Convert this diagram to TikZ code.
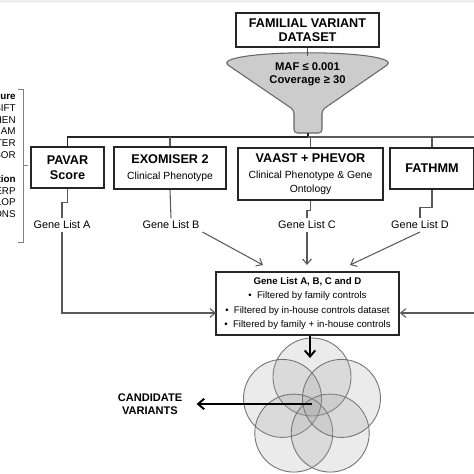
\documentclass[tikz,border=0pt]{standalone}
\usepackage{fontspec}
\setmainfont{Liberation Sans}
\usetikzlibrary{arrows.meta}

\tikzset{
  box/.style={draw=black!85, line width=1.1pt, fill=white, align=center, inner sep=1pt},
  title/.style={font=\fontsize{7.2}{7.9}\selectfont\bfseries},
  genelist/.style={font=\fontsize{6.2}{7}\selectfont, inner sep=1.5pt},
  conn/.style={draw=black!65, line width=0.6pt},
  arr/.style={conn, -{Straight Barb[length=3pt,width=5pt]}},
  bigarr/.style={draw=black, line width=1.1pt, -{Straight Barb[length=3.5pt,width=6pt]}},
  venn/.style={draw=black!55, line width=0.5pt, fill=black!40, fill opacity=0.2},
  side/.style={font=\fontsize{5.6}{6.7}\selectfont, anchor=east, align=right, inner sep=0pt}
}
\newcommand{\subtxt}{\fontsize{5.9}{6.4}\selectfont\mdseries}

\begin{document}
\begin{tikzpicture}[x=0.02cm,y=-0.02cm]
      \useasboundingbox (0,0) rectangle (474,474);
      \clip (0,0) rectangle (474,474);
      \fill[black!6] (0,0) rectangle (474,3);

      % dataset and filter
      \node[box, title, minimum width=2.86cm, minimum height=0.68cm] (dataset) at (307.5,30) {FAMILIAL VARIANT\\DATASET};
      \draw[fill=black!20, draw=black!60, line width=0.6pt, rounded corners=2pt]
        (225,63) .. controls (245,50) and (370,50) .. (390,63) -- (322,110) -- (322,133) -- (294,133) -- (294,110) -- cycle;
      \coordinate (funneltop) at (307.5,56);
      \coordinate (neck) at (308,133);
      \draw[conn] (dataset.south) -- (funneltop);
      \node[font=\fontsize{6.4}{7.6}\selectfont\bfseries, align=center] (filter) at (307.5,74) {MAF ≤ 0.001\\Coverage ≥ 30};

      % tools
      \node[box, title, minimum width=1.46cm, minimum height=0.82cm] (pavar) at (67.5,167.5) {PAVAR\\[0.5pt]Score};
      \node[box, title, minimum width=2.24cm, minimum height=0.84cm] (exo) at (170,168) {EXOMISER 2\\[1.5pt]{\subtxt Clinical Phenotype}};
      \node[box, title, minimum width=2.9cm, minimum height=1.04cm] (vaast) at (310.5,174) {VAAST + PHEVOR\\[1.5pt]{\subtxt Clinical Phenotype \& Gene}\\{\subtxt Ontology}};
      \node[box, title, minimum width=1.68cm, minimum height=0.82cm] (fathmm) at (432,168.5) {FATHMM};

      % bus from the filter
      \coordinate (busR) at (474,137);
      \draw[draw=black!85, line width=0.9pt] (pavar.north) |- (neck |- busR) -- (neck);
      \draw[conn] (neck |- busR) -- (busR);
      \draw[conn] (exo.north) -- (exo.north |- busR);
      \draw[conn] (vaast.north) -- (vaast.north |- busR);
      \draw[conn] (fathmm.north) -- (fathmm.north |- busR);

      % gene lists
      \node[genelist] (listA) at (62,225) {Gene List A};
      \node[genelist] (listB) at (171,225) {Gene List B};
      \node[genelist] (listC) at (307,225) {Gene List C};
      \node[genelist] (listD) at (420,225) {Gene List D};
      \draw[conn] (pavar.south) -- ++(0,14) -| (listA.north);
      \draw[conn] (exo.south) -- (listB.north);
      \draw[conn] (vaast.south) -- ++(0,10) -| (listC.north);
      \draw[conn] (fathmm.south) -- ++(0,18) -| (listD.north);

      % combined list
      \node[box, line width=1pt, minimum width=3.66cm, minimum height=1.26cm, font=\fontsize{5.5}{8.3}\selectfont] (result) at (307.5,303.5)
        {\textbf{Gene List A, B, C and D}\\
         \textbullet\hspace{3pt}Filtered by family controls\\
         \textbullet\hspace{3pt}Filtered by in-house controls dataset\\
         \textbullet\hspace{3pt}Filtered by family + in-house controls};
      \coordinate (inA) at (216,313);
      \coordinate (inB) at (263,265);
      \coordinate (inC) at (307,265);
      \coordinate (inD) at (350,265);
      \coordinate (inR) at (474,313);
      \draw[arr] (listA.south) |- (inA);
      \draw[arr] (listB.south east) -- (inB);
      \draw[arr] (listC.south) -- (inC);
      \draw[arr] (listD.south) -- (inD);
      \draw[arr] (inR) -- (result.east |- inR);

      % overlap of the lists
      \foreach \a in {90,162,234,306,18}
        \draw[venn] ({312+31*cos(\a)},{408-31*sin(\a)}) circle[radius=0.78cm];
      \coordinate (core) at (312,404);
      \coordinate (venntop) at (310,358);
      \draw[bigarr] (result.south -| venntop) -- (venntop);
      \node[font=\fontsize{6.3}{7.2}\selectfont\bfseries, align=center, inner sep=8pt] (cand) at (150,404) {CANDIDATE\\VARIANTS};
      \draw[bigarr] (core) -- (cand.east);

      % scores on the left
      \node[side] (scoreA) at (16,126.5) {\textbf{ure}\\SIFT\\HEN\\IAM\\TER\\SOR};
      \node[side] (scoreB) at (16,196.5) {\textbf{tion}\\ERP\\LOP\\ONS};
      \draw[draw=black!50, line width=0.5pt] (18,89) -- (23,89) -- (23,242) -- (18,242);
      \draw[draw=black!50, line width=0.5pt] (23,165) -- (28,165);
\end{tikzpicture}
\end{document}
